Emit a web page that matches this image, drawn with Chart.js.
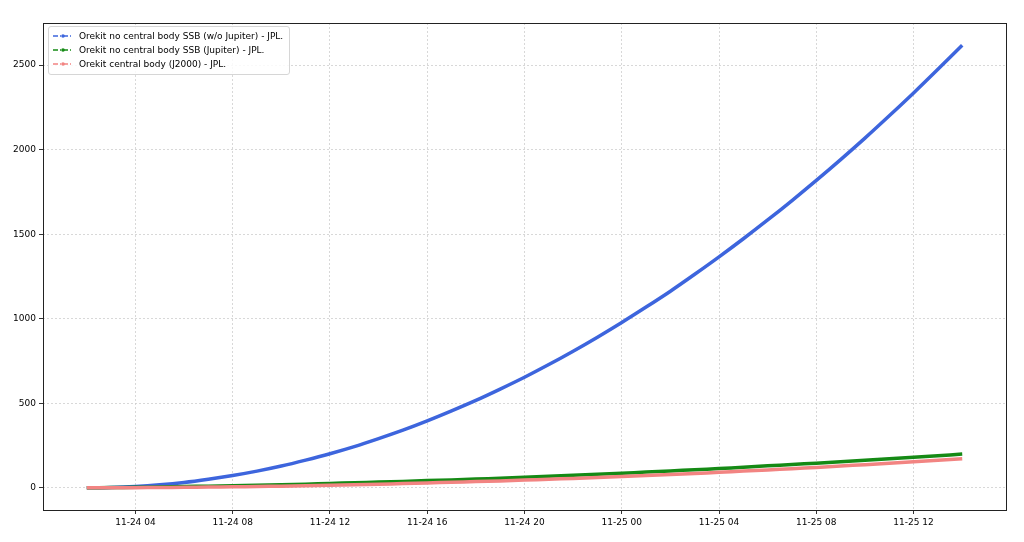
<!DOCTYPE html>
<html lang="en">
<head>
<meta charset="UTF-8">
<title>Orekit vs JPL</title>
<script src="https://cdn.jsdelivr.net/npm/chart.js"></script>
<style>
    body { margin: 0; background: #fff; font-family: "DejaVu Sans", sans-serif; }
    #wrap { position: relative; width: 1024px; height: 542px; }
    #legenda {
        position: absolute; left: 48px; top: 26px;
        padding: 2px 6px 3px 4px;
        background: rgba(255, 255, 255, 0.85);
        border: 1px solid #d6d6d6; border-radius: 3px;
        font-size: 9px; color: #000; white-space: nowrap;
    }
    .item { display: flex; align-items: center; height: 14px; }
    .item canvas { margin-right: 6px; }
</style>
</head>
<body>
<div id="wrap">
    <canvas id="grafico" width="1024" height="542"></canvas>
    <div id="legenda"></div>
</div>

<script>
    // hours since 11-24 00:00
    const horas = [2, 3, 4, 5, 6, 7, 8, 9, 10, 11, 12, 13, 14, 15, 16, 17, 18, 19, 20,
        21, 22, 23, 24, 25, 26, 27, 28, 29, 30, 31, 32, 33, 34, 35, 36, 37, 38];

    const semJupiter = [0, 2, 8, 18, 32, 51, 73, 99, 129, 164, 202, 244, 291, 341, 396, 455, 517,
        584, 654, 729, 808, 891, 978, 1069, 1163, 1263, 1366, 1473, 1584, 1699, 1818, 1941,
        2068, 2200, 2335, 2475, 2618];
    const comJupiter = [0, 2, 3, 5, 8, 10, 13, 16, 19, 22, 26, 30, 34, 38, 43, 47, 52, 57, 63,
        68, 74, 80, 87, 93, 100, 107, 114, 122, 130, 138, 146, 154, 163, 172, 181, 190, 200];
    const corpoCentral = [0, 0, 1, 2, 3, 5, 6, 8, 10, 13, 16, 19, 22, 25, 29, 33, 37, 41, 46,
        51, 56, 61, 67, 73, 79, 85, 92, 99, 106, 113, 121, 129, 137, 146, 154, 163, 172];

    const xTicks = [4, 8, 12, 16, 20, 24, 28, 32, 36];
    const xLabels = ['11-24 04', '11-24 08', '11-24 12', '11-24 16', '11-24 20',
        '11-25 00', '11-25 04', '11-25 08', '11-25 12'];
    const yTicks = [0, 500, 1000, 1500, 2000, 2500];

    const series = [
        { label: 'Orekit no central body SSB (w/o Jupiter) - JPL.', data: semJupiter, color: '#3d65dd', order: 3 },
        { label: 'Orekit no central body SSB (Jupiter) - JPL.', data: comJupiter, color: '#158a15', order: 2 },
        { label: 'Orekit central body (J2000) - JPL.', data: corpoCentral, color: '#f28482', order: 1 }
    ];

    function pontos(valores) {
        let lista = [];
        for (let i = 0; i < horas.length; i++) {
            lista.push({ x: horas[i], y: valores[i] });
        }
        return lista;
    }

    // frame around the plot, like matplotlib spines
    const moldura = {
        id: 'moldura',
        afterDatasetsDraw(chart) {
            const a = chart.chartArea;
            const ctx = chart.ctx;
            ctx.save();
            ctx.strokeStyle = '#222';
            ctx.lineWidth = 1;
            ctx.strokeRect(a.left + 0.5, a.top + 0.5, a.right - a.left, a.bottom - a.top);
            ctx.restore();
        }
    };

    const fonte = { family: 'DejaVu Sans', size: 9 };

    new Chart(document.getElementById('grafico').getContext('2d'), {
        type: 'line',
        data: {
            datasets: series.map(s => ({
                label: s.label,
                data: pontos(s.data),
                borderColor: s.color,
                backgroundColor: s.color,
                borderWidth: 3.5,
                pointRadius: 0,
                tension: 0.3,
                order: s.order
            }))
        },
        options: {
            responsive: false,
            animation: false,
            layout: { padding: { top: 23, right: 18, left: 0, bottom: 0 } },
            plugins: { legend: { display: false }, tooltip: { enabled: false } },
            scales: {
                x: {
                    type: 'linear',
                    min: 0.2,
                    max: 39.8,
                    afterFit: s => { s.height = 32; },
                    afterBuildTicks: s => { s.ticks = xTicks.map(v => ({ value: v })); },
                    ticks: {
                        color: '#000', font: fonte, padding: 3, maxRotation: 0, autoSkip: false,
                        callback: v => xLabels[xTicks.indexOf(v)]
                    },
                    grid: { color: '#cfcfcf', tickColor: '#000', tickLength: 4, lineWidth: 0.8 },
                    border: { display: false, dash: [2, 2] }
                },
                y: {
                    min: -131,
                    max: 2749,
                    afterFit: s => { s.width = 43; },
                    afterBuildTicks: s => { s.ticks = yTicks.map(v => ({ value: v })); },
                    ticks: { color: '#000', font: fonte, padding: 3, callback: v => String(v) },
                    grid: { color: '#cfcfcf', tickColor: '#000', tickLength: 4, lineWidth: 0.8 },
                    border: { display: false, dash: [2, 2] }
                }
            }
        },
        plugins: [moldura]
    });

    // legend with a dashed sample and a dot, like the original
    const legenda = document.getElementById('legenda');
    series.forEach(s => {
        const item = document.createElement('div');
        item.className = 'item';
        const amostra = document.createElement('canvas');
        amostra.width = 20;
        amostra.height = 8;
        const c = amostra.getContext('2d');
        c.strokeStyle = s.color;
        c.fillStyle = s.color;
        c.lineWidth = 1.5;
        c.setLineDash([5, 2, 1, 2]);
        c.beginPath();
        c.moveTo(0, 4);
        c.lineTo(20, 4);
        c.stroke();
        c.beginPath();
        c.arc(10, 4, 1.8, 0, Math.PI * 2);
        c.fill();
        const texto = document.createElement('span');
        texto.textContent = s.label;
        item.appendChild(amostra);
        item.appendChild(texto);
        legenda.appendChild(item);
    });
</script>
</body>
</html>
